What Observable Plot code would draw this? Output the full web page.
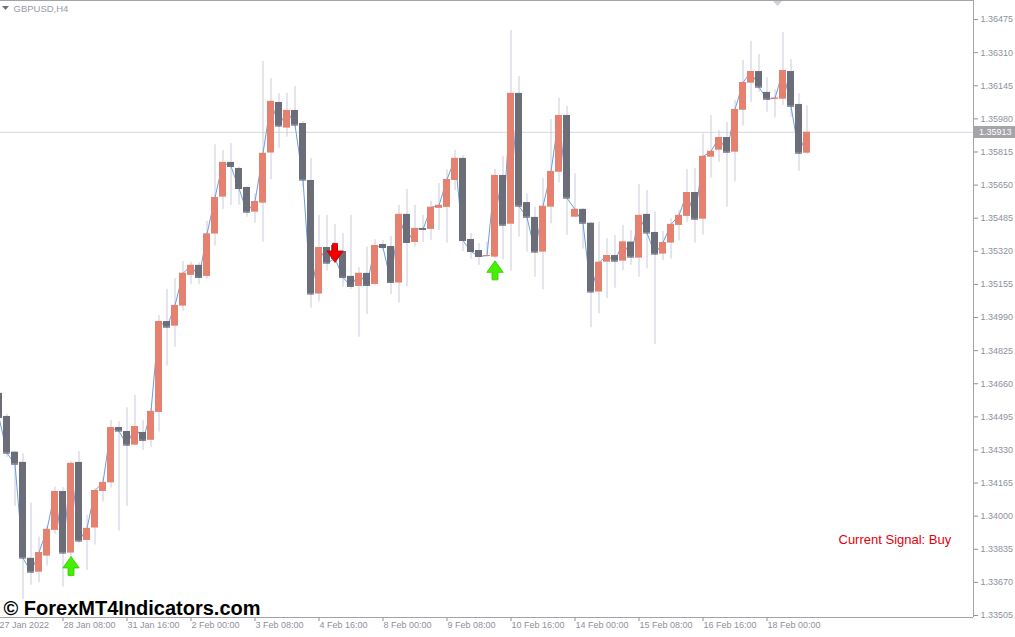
<!DOCTYPE html>
<html><head><meta charset="utf-8">
<script src="https://cdn.jsdelivr.net/npm/d3@7"></script>
<script src="https://cdn.jsdelivr.net/npm/@observablehq/plot@0.6"></script>
<style>html,body{margin:0;padding:0;background:#fff;} #chart{position:relative;width:1015px;height:637px;overflow:hidden;}</style>
</head><body><div id="chart"></div>
<script>
// GBPUSD H4 candles, first visible bar index -1 (partially cut at left edge)
const firstBar = -1;
const opens = [1.34612,1.34497,1.34319,1.34268,1.33790,1.33721,1.33801,1.33929,1.34123,1.33816,
1.34268,1.33879,1.33941,1.34123,1.34166,1.34442,1.34422,1.34354,1.34417,1.34378,
1.34517,1.34970,1.34947,1.35047,1.35200,1.35250,1.35195,1.35406,1.35590,1.35763,
1.35733,1.35638,1.35515,1.35560,1.35810,1.36062,1.35934,1.36022,1.35957,1.35673,
1.35107,1.35339,1.35349,1.35319,1.35195,1.35145,1.35210,1.35155,1.35354,1.35344,
1.35162,1.35504,1.35364,1.35434,1.35429,1.35534,1.35539,1.35673,1.35783,1.35379,
1.35324,1.35294,1.35291,1.35698,1.35455,1.36107,1.35563,1.35489,1.35316,1.35540,
1.35714,1.35997,1.35490,1.35529,1.35460,1.35117,1.35266,1.35299,1.35271,1.35366,
1.35286,1.35504,1.35414,1.35306,1.35361,1.35449,1.35494,1.35613,1.35480,1.35789,
1.35824,1.35887,1.35814,1.36023,1.36158,1.36216,1.36112,1.36078,1.36078,1.36216,
1.36052,1.35809];
const highs = [1.34627,1.34507,1.34322,1.34311,1.34065,1.33896,1.33949,1.34145,1.34142,1.34271,
1.34322,1.34004,1.34137,1.34195,1.34477,1.34471,1.34540,1.34602,1.34477,1.34537,
1.35000,1.35130,1.35183,1.35269,1.35266,1.35263,1.35469,1.35851,1.35823,1.35857,
1.35740,1.35643,1.35607,1.36266,1.36180,1.36105,1.36108,1.36142,1.35967,1.35783,
1.35499,1.35499,1.35454,1.35409,1.35499,1.35238,1.35341,1.35378,1.35374,1.35394,
1.35549,1.35628,1.35549,1.35499,1.35570,1.35658,1.35726,1.35823,1.35797,1.35409,
1.35359,1.35366,1.35728,1.35794,1.36421,1.36191,1.35607,1.35540,1.35682,1.35977,
1.36082,1.36042,1.35706,1.35534,1.35464,1.35465,1.35383,1.35399,1.35449,1.35424,
1.35653,1.35623,1.35515,1.35419,1.35482,1.35524,1.35728,1.35734,1.35904,1.35997,
1.35922,1.35962,1.36072,1.36271,1.36366,1.36301,1.36186,1.36125,1.36411,1.36276,
1.36105,1.36045];
const lows = [1.34477,1.34293,1.34049,1.33584,1.33656,1.33668,1.33751,1.33909,1.33647,1.33695,
1.33864,1.33730,1.33856,1.34070,1.34140,1.33926,1.34049,1.34350,1.34328,1.34344,
1.34419,1.34748,1.34842,1.35020,1.35155,1.35155,1.35180,1.35346,1.35529,1.35549,
1.35550,1.35490,1.35460,1.35366,1.35677,1.35834,1.35889,1.35939,1.35640,1.35037,
1.35067,1.35221,1.35259,1.35141,1.35130,1.34892,1.35005,1.35150,1.35324,1.35105,
1.35062,1.35145,1.35341,1.35364,1.35374,1.35424,1.35361,1.35623,1.35319,1.35281,
1.35250,1.35291,1.35284,1.35278,1.35221,1.35391,1.35316,1.35191,1.35128,1.35457,
1.35660,1.35399,1.35489,1.35331,1.34939,1.35009,1.35084,1.35136,1.35225,1.35250,
1.35191,1.35233,1.34856,1.35274,1.35282,1.35371,1.35465,1.35361,1.35401,1.35685,
1.35764,1.35540,1.35665,1.35944,1.36063,1.36113,1.36013,1.35984,1.36047,1.35989,
1.35719,1.35803];
const closes = [1.34492,1.34314,1.34259,1.33791,1.33721,1.33819,1.33934,1.34123,1.33816,1.34263,
1.33876,1.33939,1.34128,1.34168,1.34442,1.34424,1.34354,1.34447,1.34378,1.34522,
1.34970,1.34942,1.35050,1.35210,1.35250,1.35190,1.35406,1.35588,1.35763,1.35743,
1.35633,1.35515,1.35568,1.35808,1.36067,1.35944,1.36022,1.35949,1.35675,1.35107,
1.35339,1.35261,1.35284,1.35190,1.35145,1.35210,1.35150,1.35349,1.35339,1.35165,
1.35504,1.35364,1.35434,1.35429,1.35539,1.35549,1.35678,1.35783,1.35374,1.35319,
1.35294,1.35299,1.35698,1.35450,1.36107,1.35545,1.35490,1.35316,1.35544,1.35718,
1.35997,1.35585,1.35529,1.35460,1.35117,1.35265,1.35299,1.35271,1.35366,1.35291,
1.35499,1.35411,1.35306,1.35364,1.35454,1.35499,1.35613,1.35480,1.35793,1.35818,
1.35887,1.35814,1.36027,1.36161,1.36216,1.36138,1.36078,1.36083,1.36221,1.36043,
1.35809,1.35913];

const xTickBars = [-1, 7, 15, 23, 31, 39, 47, 55, 63, 71, 79, 87, 95];
const xTickLabels = ["27 Jan 2022","28 Jan 08:00","31 Jan 16:00","2 Feb 00:00","3 Feb 08:00","4 Feb 16:00","8 Feb 00:00","9 Feb 08:00","10 Feb 16:00","14 Feb 00:00","15 Feb 08:00","16 Feb 16:00","18 Feb 00:00"];
const yTickValues = [1.33505,1.33670,1.33835,1.34000,1.34165,1.34330,1.34495,1.34660,1.34825,1.34990,1.35155,1.35320,1.35485,1.35650,1.35815,1.35980,1.36145,1.36310,1.36475];

const buyBars = [8, 61];
const buyPrices = [1.33752, 1.35225];
const sellBars = [41];
const sellPrices = [1.35312];

const currentPrice = 1.35913;
const symbolName = "GBPUSD,H4";
const signalText = "Current Signal: Buy";
const watermark = "\u00A9 ForexMT4Indicators.com";

const xDomain = [-0.8125, 120.8125];
const yDomain = [1.33495, 1.3657];

const bullColor = "#e6816f", bearColor = "#6b6e79", wickColor = "#c9cadb", lineColor = "#6c9de2";
const axisText = "#8f909e";

const bars = opens.map((o, j) => ({i: j + firstBar, open: o, high: highs[j], low: lows[j], close: closes[j]}));
const bull = bars.filter(d => d.close >= d.open);
const bear = bars.filter(d => d.close < d.open);
const buys = buyBars.map((b, j) => ({i: b, price: buyPrices[j]}));
const sells = sellBars.map((b, j) => ({i: b, price: sellPrices[j]}));
const xTicks = xTickBars.map((b, j) => ({i: b, label: xTickLabels[j]}));

const half = 0.4375;
const arrowUp = {draw(ctx) {
  ctx.moveTo(0, -9.5); ctx.lineTo(8.2, 2); ctx.lineTo(3, 2); ctx.lineTo(3, 9.5);
  ctx.lineTo(-3, 9.5); ctx.lineTo(-3, 2); ctx.lineTo(-8.2, 2); ctx.closePath();
}};
const arrowDown = {draw(ctx) {
  ctx.moveTo(0, 9.5); ctx.lineTo(8.2, -2); ctx.lineTo(2.5, -2); ctx.lineTo(2.5, -9.5);
  ctx.lineTo(-2.5, -9.5); ctx.lineTo(-2.5, -2); ctx.lineTo(-8.2, -2); ctx.closePath();
}};
const triDown = {draw(ctx) {
  ctx.moveTo(-4.5, -2.5); ctx.lineTo(4.5, -2.5); ctx.lineTo(0, 2.5); ctx.closePath();
}};

const bodyMarks = (data, color) => [
  Plot.rect(data, {x1: d => d.i - half, x2: d => d.i + half, y1: "open", y2: "close", fill: color}),
  Plot.ruleY(data, {y: "close", x1: d => d.i - half, x2: d => d.i + half, stroke: color})
];

const label = (txt, opts) => Plot.text([txt], {text: d => d, frameAnchor: "top-left", lineAnchor: "middle", textAnchor: "start", ...opts});

const plot = Plot.plot({
  width: 1015, height: 637,
  marginLeft: 0, marginRight: 42, marginTop: 0, marginBottom: 20,
  style: {fontFamily: '"Liberation Sans", Arial, sans-serif', fontSize: "9px", color: axisText, background: "#fff", overflow: "visible"},
  x: {domain: xDomain, ticks: xTickBars, tickFormat: () => "", tickSize: 4, tickPadding: 0, label: null},
  y: {domain: yDomain, axis: "right", ticks: yTickValues, tickFormat: d => d.toFixed(5), tickSize: 4, tickPadding: 3, label: null},
  marks: [
    Plot.ruleY([currentPrice], {stroke: "#d6d6e0"}),
    Plot.ruleX(bars, {x: "i", y1: "low", y2: "high", stroke: wickColor}),
    Plot.line(bars, {x: "i", y: "close", stroke: lineColor, strokeWidth: 1}),
    ...bodyMarks(bull, bullColor),
    ...bodyMarks(bear, bearColor),
    Plot.dot(buys, {x: "i", y: "price", symbol: arrowUp, fill: "#46f000", stroke: "#30c800", strokeWidth: 0.8}),
    Plot.dot(sells, {x: "i", y: "price", symbol: arrowDown, fill: "#f20000", stroke: "#c40000", strokeWidth: 0.8}),
    Plot.ruleX([xDomain[1]], {stroke: "#a3a3a8"}),
    Plot.ruleY([yDomain[0]], {stroke: "#a3a3a8"}),
    Plot.ruleY([yDomain[1]], {stroke: "#a3a3a8"}),
    Plot.text(xTicks, {x: "i", text: "label", frameAnchor: "bottom", lineAnchor: "middle", dy: 7.4, dx: 0.5, textAnchor: "start", fill: axisText, fontSize: 9}),
    Plot.dot([0], {frameAnchor: "top-left", dx: 5, dy: 7.5, symbol: {draw(ctx) { ctx.moveTo(-3.5, -2); ctx.lineTo(3.5, -2); ctx.lineTo(0, 2); ctx.closePath(); }}, fill: "#707082", stroke: "none"}),
    label(symbolName, {dx: 13, dy: 8, fill: "#9a9aa9", fontSize: 9.5}),
    Plot.dot([0], {frameAnchor: "top-left", dx: 777, dy: 3, symbol: triDown, fill: "#cfd0d8", stroke: "none"}),
    label(signalText, {dx: 838, dy: 539.5, fill: "#e4000f", fontSize: 13}),
    label(watermark, {dx: 3, dy: 608.3, fill: "#000", fontSize: 20, fontWeight: "bold"})
  ]
});

const svg = d3.select(plot);
const yS = plot.scale("y"), xS = plot.scale("x");
const cy = Math.round(yS.apply(currentPrice));
const bx = xS.range[1] + 1;
const box = svg.append("g").attr("text-anchor", "start");
box.append("rect").attr("x", bx).attr("y", cy - 6).attr("width", 41).attr("height", 12).attr("fill", "#a4a4a9");
box.append("text").attr("x", bx + 5).attr("y", cy).attr("dy", "0.35em").attr("fill", "#fff").attr("text-anchor", "start")
  .attr("font-family", '"Liberation Sans", Arial, sans-serif').attr("font-size", "9px").text(currentPrice.toFixed(5));

document.getElementById("chart").appendChild(plot);
</script></body></html>
